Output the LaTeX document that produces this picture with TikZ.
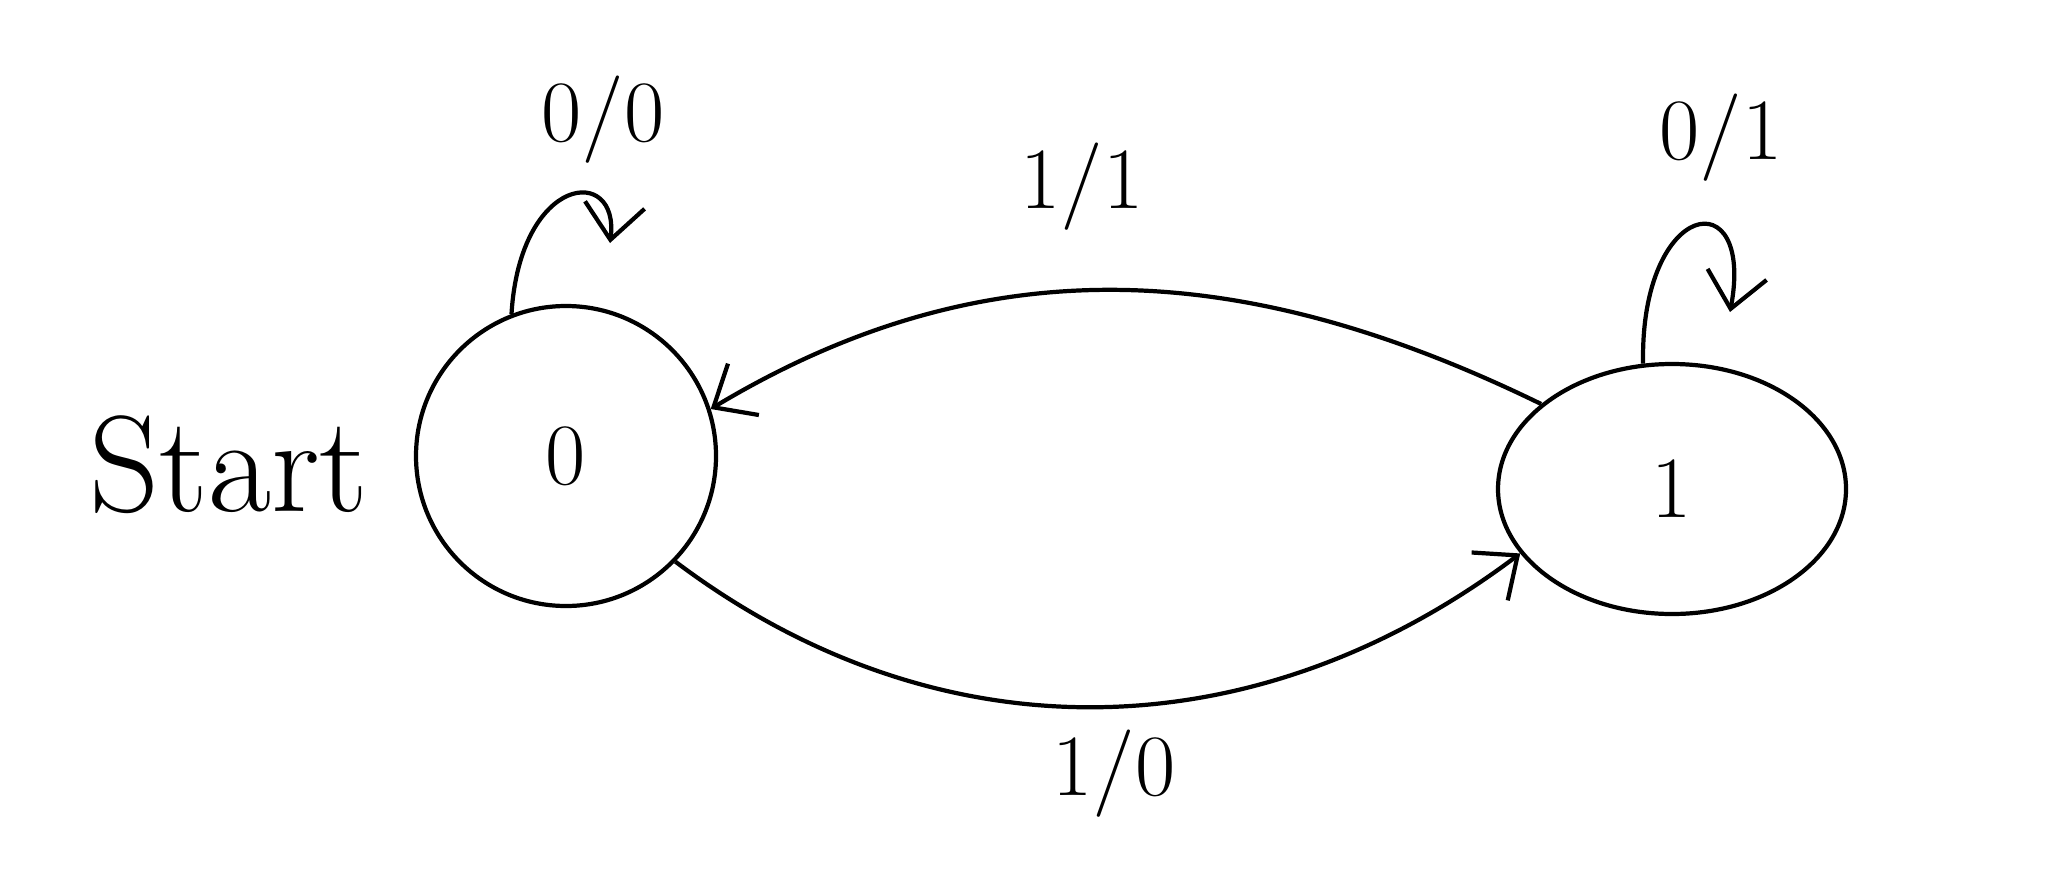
\documentclass[tikz,border=0pt]{standalone}
\usepackage{amsmath}
\usepackage{tikz}
\usetikzlibrary{shapes.geometric,arrows.meta}

\begin{document}
\begin{tikzpicture}[line width=1.2pt,
    stnode/.style={draw,inner sep=0pt,font=\fontsize{28}{32}\selectfont},
    edgelbl/.style={font=\fontsize{44}{48}\selectfont},
    arr/.style={-{Straight Barb[length=3.5mm,width=6mm]}}]
        \useasboundingbox (0,0) rectangle (20.56,8.94);
        \node[stnode,circle,minimum size=3cm] (q0) at (5.66,4.38) {$0$};
        \node[stnode,ellipse,minimum width=3.48cm,minimum height=2.5cm] (q1) at (16.72,4.05) {$1$};
        \node[font=\fontsize{39}{44}\selectfont] (start) at (2.29,4.29) {Start};
        \coordinate (e0) at (6.10,6.51);
        \coordinate (e1) at (17.30,5.82);
        \draw[arr] (q0.111) .. controls (5.2,7.2) and (6.2,7.3) .. (e0);
        \draw[arr] (q1.103) .. controls (16.40,6.95) and (17.55,7.15) .. (e1);
        \draw[arr] (q1.147) to[out=154,in=31] (q0.18);
        \draw[arr] (q0.-44) to[out=-37,in=-143] (q1.203);
        \node[edgelbl] (l00) at (6.03,7.74) {$0/0$};
        \node[edgelbl] (l11) at (10.82,7.07) {$1/1$};
        \node[edgelbl] (l01) at (17.21,7.56) {$0/1$};
        \node[edgelbl] (l10) at (11.14,1.20) {$1/0$};
      \end{tikzpicture}
\end{document}
